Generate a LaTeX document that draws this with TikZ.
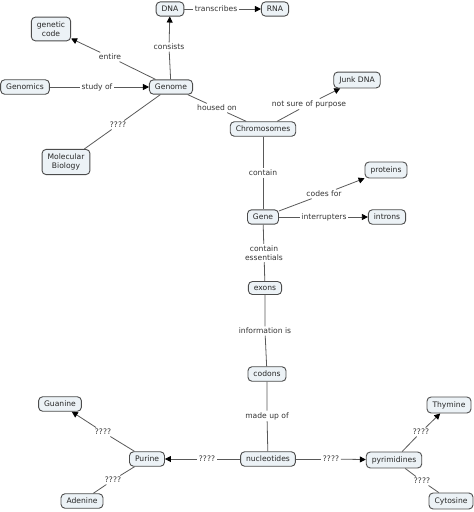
\documentclass[tikz,border=0pt]{standalone}
\usepackage{fontspec}
\setsansfont{DejaVu Sans}
\usetikzlibrary{arrows.meta}
\definecolor{ConceptFill}{RGB}{236, 242, 246}
\colorlet{ConceptBorder}{black!70}
\tikzset{
    concept/.style = {draw = ConceptBorder, fill = ConceptFill, rounded corners = 4pt,
        line width = 0.9pt, inner xsep = 5.5pt, inner ysep = 4.3pt, align = center,
        font = \sffamily\fontsize{7.6}{9.2}\selectfont, text = black!85},
    phrase/.style = {inner sep = 1.5pt, align = center,
        font = \sffamily\fontsize{7.6}{9.2}\selectfont, text = black!80},
    link/.style = {draw = black!65, line width = 0.8pt},
    linkto/.style = {link, -{Triangle[length = 6pt, width = 6pt, color = black]}},
}

\begin{document}
\begin{tikzpicture}[x = 1pt, y = -1pt]
\useasboundingbox (0, 0) rectangle (474, 512);

% concepts
\node[concept] (dna) at (170, 9) {DNA};
\node[concept] (rna) at (275, 9) {RNA};
\node[concept] (gencode) at (51, 29) {genetic\\code};
\node[concept] (genomics) at (25, 87) {Genomics};
\node[concept] (genome) at (171, 87) {Genome};
\node[concept] (molbio) at (66, 162) {Molecular\\Biology};
\node[concept] (junk) at (357, 80) {Junk DNA};
\node[concept] (chromo) at (263, 129) {Chromosomes};
\node[concept] (proteins) at (386, 170) {proteins};
\node[concept] (gene) at (263, 217) {Gene};
\node[concept] (introns) at (387, 217) {introns};
\node[concept] (exons) at (265, 288) {exons};
\node[concept] (codons) at (267, 374) {codons};
\node[concept] (guanine) at (60, 404) {Guanine};
\node[concept] (thymine) at (449, 405) {Thymine};
\node[concept] (purine) at (147, 459) {Purine};
\node[concept] (nucleo) at (268, 459) {nucleotides};
\node[concept] (pyrimi) at (394, 460) {pyrimidines};
\node[concept] (adenine) at (82, 501) {Adenine};
\node[concept] (cytosine) at (451, 501) {Cytosine};

% linking phrases
\node[phrase] (transcribes) at (216, 9) {transcribes};
\node[phrase] (consists) at (169, 47) {consists};
\node[phrase] (entire) at (110, 57) {entire};
\node[phrase] (studyof) at (97, 87) {study of};
\node[phrase] (unknownA) at (118, 125) {????};
\node[phrase] (housedon) at (217, 108) {housed on};
\node[phrase] (notsure) at (309, 104) {not sure of purpose};
\node[phrase] (contain) at (263, 173) {contain};
\node[phrase] (codesfor) at (324, 194) {codes for};
\node[phrase] (interrupt) at (324, 217) {interrupters};
\node[phrase] (essentials) at (264, 253) {contain\\essentials};
\node[phrase] (infois) at (265, 331) {information is};
\node[phrase] (madeup) at (267, 416) {made up of};
\node[phrase] (unknownB) at (103, 432) {????};
\node[phrase] (unknownC) at (421, 432) {????};
\node[phrase] (unknownD) at (207, 459) {????};
\node[phrase] (unknownE) at (331, 459) {????};
\node[phrase] (unknownF) at (113, 480) {????};
\node[phrase] (unknownG) at (422, 481) {????};

% connectors
\draw[link] (dna) -- (transcribes);
\draw[linkto] (transcribes) -- (rna);
\draw[link] (genome) -- (consists);
\draw[linkto] (consists) -- (dna);
\draw[link] (genome) -- (entire);
\draw[linkto] (entire) -- (gencode);
\draw[link] (genomics) -- (studyof);
\draw[linkto] (studyof) -- (genome);
\draw[link] (genome) -- (unknownA) -- (molbio);
\draw[link] (genome) -- (housedon) -- (chromo);
\draw[link] (chromo) -- (notsure);
\draw[linkto] (notsure) -- (junk);
\draw[link] (chromo) -- (contain) -- (gene);
\draw[link] (gene) -- (codesfor);
\draw[linkto] (codesfor) -- (proteins);
\draw[link] (gene) -- (interrupt);
\draw[linkto] (interrupt) -- (introns);
\draw[link] (gene) -- (essentials) -- (exons);
\draw[link] (exons) -- (infois) -- (codons);
\draw[link] (codons) -- (madeup) -- (nucleo);
\draw[link] (nucleo) -- (unknownD);
\draw[linkto] (unknownD) -- (purine);
\draw[link] (nucleo) -- (unknownE);
\draw[linkto] (unknownE) -- (pyrimi);
\draw[link] (purine) -- (unknownB);
\draw[linkto] (unknownB) -- (guanine);
\draw[link] (purine) -- (unknownF) -- (adenine);
\draw[link] (pyrimi) -- (unknownC);
\draw[linkto] (unknownC) -- (thymine);
\draw[link] (pyrimi) -- (unknownG) -- (cytosine);

\end{tikzpicture}
\end{document}
